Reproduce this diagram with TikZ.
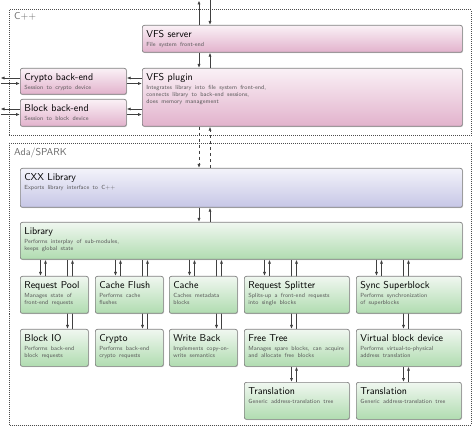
\documentclass[tikz,border=0pt]{standalone}
\usepackage{tikz}
\usetikzlibrary{arrows.meta,shadows,backgrounds}
\definecolor{pinktop}{RGB}{250,241,246}
\definecolor{pinkbot}{RGB}{226,178,204}
\definecolor{lavtop}{RGB}{243,243,250}
\definecolor{lavbot}{RGB}{198,198,230}
\definecolor{greentop}{RGB}{240,247,240}
\definecolor{greenbot}{RGB}{176,220,176}
\newcommand\modinfo{\\[2.6pt]\fontsize{5.9}{6.7}\selectfont\color{black!65}}
\begin{document}
\begin{tikzpicture}[x=1pt,y=-1pt,font=\sffamily,
    box/.style={draw=black!50,line width=.7pt,rounded corners=2pt,anchor=north west,
      align=left,inner sep=4pt,text height=8pt,font=\sffamily\fontsize{10}{6.7}\selectfont,
      drop shadow={shadow xshift=.7pt,shadow yshift=-.7pt,opacity=.35}},
    sz/.code args={#1x#2}{\pgfmathsetmacro\tw{#1-8}\pgfmathsetmacro\td{#2-16}%
      \tikzset{text width=\tw pt,text depth=\td pt}},
    cppbox/.style={box,top color=pinktop,bottom color=pinkbot},
    cxxbox/.style={box,top color=lavtop,bottom color=lavbot},
    adabox/.style={box,top color=greentop,bottom color=greenbot},
    frame/.style={densely dotted,line width=1pt,black!70},
    lbl/.style={anchor=north west,inner sep=0pt,black!60},
    conn/.style={draw=black!75,line width=.8pt,-{Latex[length=4pt,width=3.2pt]}}]
    \useasboundingbox (0,0) rectangle (474,430);
    \coordinate (ext) at (.5,.5);
    % language frames
    \draw[frame] (9,10) rectangle (471,136);
    \draw[frame] (9,143.5) rectangle (471,425);
    \node[lbl] (cpp) at (14,12.5) {C++};
    \node[lbl] (ada) at (14,147.5) {Ada/SPARK};
    % C++ part
    \node[cppbox,sz=320x27] (vfss) at (142,25) {VFS server\modinfo File system front-end};
    \node[cppbox,sz=320x58] (vfsp) at (142,68) {VFS plugin\modinfo Integrates library into file system front-end,\\connects library to back-end sessions,\\does memory management};
    \node[cppbox,sz=106x26] (cbe) at (20,68) {Crypto back-end\modinfo Session to crypto device};
    \node[cppbox,sz=106x27] (bbe) at (20,99) {Block back-end\modinfo Session to block device};
    % Ada/SPARK part
    \node[cxxbox,sz=442x39] (cxx) at (20,168) {CXX Library\modinfo Exports library interface to C++};
    \node[adabox,sz=442x37] (lib) at (20,222) {Library\modinfo Performs interplay of sub-modules,\\keeps global state};
    \node[adabox,sz=68x37] (rpool) at (20,276) {Request Pool\modinfo Manages state of\\front-end requests};
    \node[adabox,sz=68x37] (cflush) at (95,276) {Cache Flush\modinfo Performs cache\\flushes};
    \node[adabox,sz=68x37] (cache) at (169,276) {Cache\modinfo Caches metadata\\blocks};
    \node[adabox,sz=105x37] (rsplit) at (244,276) {Request Splitter\modinfo Splits-up a front-end requests\\into single blocks};
    \node[adabox,sz=105x37] (sync) at (356,276) {Sync Superblock\modinfo Performs synchronization\\of superblocks};
    \node[adabox,sz=68x37] (bio) at (20,329) {Block IO\modinfo Performs back-end\\block requests};
    \node[adabox,sz=68x37] (crypto) at (95,329) {Crypto\modinfo Performs back-end\\crypto requests};
    \node[adabox,sz=68x37] (wback) at (169,329) {Write Back\modinfo Implements copy-on-\\write semantics};
    \node[adabox,sz=105x37] (ftree) at (244,329) {Free Tree\modinfo Manages spare blocks, can acquire\\and allocate free blocks};
    \node[adabox,sz=105x37] (vbd) at (356,329) {Virtual block device\modinfo Performs virtual-to-physical\\address translation};
    \node[adabox,sz=105x37] (tra) at (244,382) {Translation\modinfo Generic address-translation tree};
    \node[adabox,sz=105x37] (trb) at (356,382) {Translation\modinfo Generic address-translation tree};
    % vertical channel
    \draw[conn] ([xshift=57pt]vfss.north west) -- ([xshift=57pt]vfss.north west |- ext);
    \draw[conn] ([xshift=68pt]vfss.north west |- ext) -- ([xshift=68pt]vfss.north west);
    \foreach \a/\b/\s in {vfss/vfsp/solid,vfsp/cxx/dashed,cxx/lib/solid}{
      \draw[conn,\s] ([xshift=57pt]vfss.west |- \a.south) -- ([xshift=57pt]vfss.west |- \b.north);
      \draw[conn,\s] ([xshift=68pt]vfss.west |- \b.north) -- ([xshift=68pt]vfss.west |- \a.south);
    }
    % back-ends
    \foreach \n in {cbe,bbe}{
      \draw[conn] ([yshift=-10pt]\n.north east -| vfsp.west) -- ([yshift=-10pt]\n.north east);
      \draw[conn] ([yshift=-15.5pt]\n.north east) -- ([yshift=-15.5pt]\n.north east -| vfsp.west);
      \draw[conn] ([yshift=-10pt]\n.north west) -- ([yshift=-10pt]\n.north west -| ext);
      \draw[conn] ([yshift=-15.5pt]\n.north west -| ext) -- ([yshift=-15.5pt]\n.north west);
    }
    % sub-modules
    \foreach \m in {rpool,cflush,cache,rsplit,sync}{
      \draw[conn] ([xshift=20.5pt]\m.north west |- lib.south) -- ([xshift=20.5pt]\m.north west);
      \draw[conn] ([xshift=25.5pt]\m.north west) -- ([xshift=25.5pt]\m.north west |- lib.south);
    }
    \begin{pgfonlayer}{background}
      \foreach \m in {bio,crypto,wback,ftree,vbd}{
        \draw[conn] ([xshift=47.5pt]\m.north west |- lib.south) -- ([xshift=47.5pt]\m.north west);
        \draw[conn] ([xshift=52.5pt]\m.north west) -- ([xshift=52.5pt]\m.north west |- lib.south);
      }
    \end{pgfonlayer}
    \foreach \a/\b in {ftree/tra,vbd/trb}{
      \draw[conn] ([xshift=47.5pt]\a.south west) -- ([xshift=47.5pt]\a.south west |- \b.north);
      \draw[conn] ([xshift=52.5pt]\a.south west |- \b.north) -- ([xshift=52.5pt]\a.south west);
    }
\end{tikzpicture}
\end{document}
